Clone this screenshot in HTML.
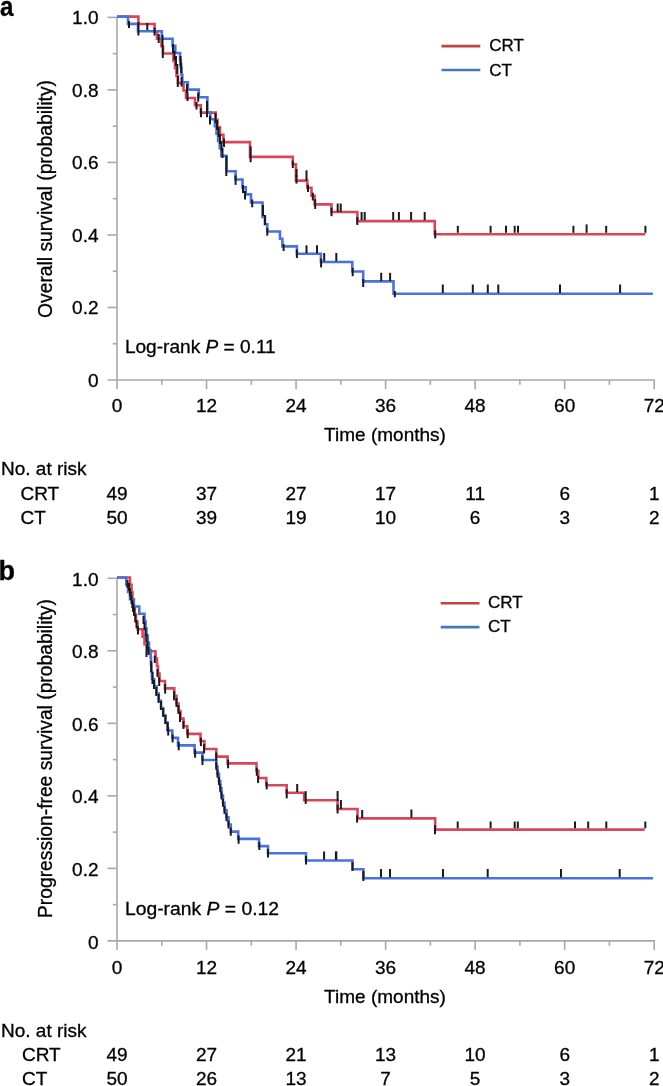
<!DOCTYPE html>
<html><head><meta charset="utf-8"><style>
html,body{margin:0;padding:0;background:#fff;}
svg{display:block;font-family:'Liberation Sans',sans-serif;filter:blur(0.4px);}
</style></head><body>
<svg width="663" height="1086" viewBox="0 0 663 1086">
<rect width="663" height="1086" fill="#fff"/>
<g stroke="#a8a8a8" stroke-width="1.6" fill="none"><line x1="117.0" y1="17.4" x2="117.0" y2="389.0"/><line x1="107.5" y1="380.0" x2="654.9000000000001" y2="380.0"/><line x1="112.8" y1="343.74" x2="117.0" y2="343.74"/><line x1="107.5" y1="307.48" x2="117.0" y2="307.48"/><line x1="112.8" y1="271.22" x2="117.0" y2="271.22"/><line x1="107.5" y1="234.96" x2="117.0" y2="234.96"/><line x1="112.8" y1="198.70" x2="117.0" y2="198.70"/><line x1="107.5" y1="162.44" x2="117.0" y2="162.44"/><line x1="112.8" y1="126.18" x2="117.0" y2="126.18"/><line x1="107.5" y1="89.92" x2="117.0" y2="89.92"/><line x1="112.8" y1="53.66" x2="117.0" y2="53.66"/><line x1="107.5" y1="17.40" x2="117.0" y2="17.40"/><line x1="161.77" y1="380.0" x2="161.77" y2="384.8"/><line x1="206.53" y1="380.0" x2="206.53" y2="389.2"/><line x1="251.30" y1="380.0" x2="251.30" y2="384.8"/><line x1="296.07" y1="380.0" x2="296.07" y2="389.2"/><line x1="340.83" y1="380.0" x2="340.83" y2="384.8"/><line x1="385.60" y1="380.0" x2="385.60" y2="389.2"/><line x1="430.37" y1="380.0" x2="430.37" y2="384.8"/><line x1="475.13" y1="380.0" x2="475.13" y2="389.2"/><line x1="519.90" y1="380.0" x2="519.90" y2="384.8"/><line x1="564.67" y1="380.0" x2="564.67" y2="389.2"/><line x1="609.43" y1="380.0" x2="609.43" y2="384.8"/><line x1="654.20" y1="380.0" x2="654.20" y2="389.2"/><line x1="117.0" y1="578.3" x2="117.0" y2="949.9"/><line x1="107.5" y1="940.9" x2="654.9000000000001" y2="940.9"/><line x1="112.8" y1="904.64" x2="117.0" y2="904.64"/><line x1="107.5" y1="868.38" x2="117.0" y2="868.38"/><line x1="112.8" y1="832.12" x2="117.0" y2="832.12"/><line x1="107.5" y1="795.86" x2="117.0" y2="795.86"/><line x1="112.8" y1="759.60" x2="117.0" y2="759.60"/><line x1="107.5" y1="723.34" x2="117.0" y2="723.34"/><line x1="112.8" y1="687.08" x2="117.0" y2="687.08"/><line x1="107.5" y1="650.82" x2="117.0" y2="650.82"/><line x1="112.8" y1="614.56" x2="117.0" y2="614.56"/><line x1="107.5" y1="578.30" x2="117.0" y2="578.30"/><line x1="161.77" y1="940.9" x2="161.77" y2="945.6999999999999"/><line x1="206.53" y1="940.9" x2="206.53" y2="950.1"/><line x1="251.30" y1="940.9" x2="251.30" y2="945.6999999999999"/><line x1="296.07" y1="940.9" x2="296.07" y2="950.1"/><line x1="340.83" y1="940.9" x2="340.83" y2="945.6999999999999"/><line x1="385.60" y1="940.9" x2="385.60" y2="950.1"/><line x1="430.37" y1="940.9" x2="430.37" y2="945.6999999999999"/><line x1="475.13" y1="940.9" x2="475.13" y2="950.1"/><line x1="519.90" y1="940.9" x2="519.90" y2="945.6999999999999"/><line x1="564.67" y1="940.9" x2="564.67" y2="950.1"/><line x1="609.43" y1="940.9" x2="609.43" y2="945.6999999999999"/><line x1="654.20" y1="940.9" x2="654.20" y2="950.1"/></g><g fill="none" stroke-width="2.6" stroke-linejoin="miter" stroke-linecap="butt"><path d="M117.00,16.60H138.40V24.00H154.60V31.40H157.00V38.80H161.50V46.20H163.00V53.50H173.40V60.90H175.00V68.30H176.50V75.70H178.00V83.10H183.50V90.50H186.00V98.00H195.00V105.20H200.80V112.60H215.80V119.90H217.50V127.30H220.00V134.70H223.40V142.10H250.00V149.50H250.00V156.90H292.80V164.30H295.90V172.40H295.90V180.60H307.30V187.80H311.50V195.70H314.60V204.40H331.50V212.00H357.40V221.10H434.80V234.30H645.40" stroke="#d6475a"/><path d="M117.00,16.60H128.00V23.90H138.00V31.30H161.80V38.70H172.60V45.90H175.30V53.00H180.10V60.30H180.80V67.50H181.50V74.80H182.30V82.20H187.90V89.60H198.80V97.20H207.40V104.70H207.40V112.30H210.30V119.20H214.90V126.30H216.50V133.60H218.10V140.90H219.70V148.20H221.30V155.90H226.60V163.50H226.60V171.20H235.60V179.50H242.50V187.40H245.80V194.40H251.00V202.50H262.50V209.70H262.50V216.90H264.90V224.20H267.30V231.50H280.00V238.80H282.40V246.40H296.90V253.80H320.90V262.00H352.30V271.50H363.20V281.40H393.50V293.80H652.90" stroke="#4a72dc"/><g stroke="#1a1a1a" stroke-width="2.0"><line x1="129" y1="21" x2="129" y2="28"/><line x1="138.4" y1="22" x2="138.4" y2="35.5"/><line x1="147.3" y1="23" x2="147.3" y2="30"/><line x1="154.6" y1="27.7" x2="154.6" y2="35.6"/><line x1="158.7" y1="34" x2="158.7" y2="43"/><line x1="162.5" y1="35" x2="162.5" y2="47"/><line x1="162.8" y1="47" x2="162.8" y2="58"/><line x1="173" y1="44" x2="173" y2="53"/><line x1="174.5" y1="51" x2="174.5" y2="60"/><line x1="176" y1="56" x2="176" y2="66"/><line x1="177.3" y1="64" x2="177.3" y2="74"/><line x1="177.8" y1="76" x2="177.8" y2="87"/><line x1="180.5" y1="56" x2="180.5" y2="66"/><line x1="181.2" y1="63" x2="181.2" y2="73"/><line x1="181.6" y1="77" x2="181.6" y2="86.5"/><line x1="187" y1="84" x2="187" y2="93"/><line x1="187.5" y1="92" x2="187.5" y2="101"/><line x1="198.2" y1="92.7" x2="198.2" y2="101.7"/><line x1="196.5" y1="102" x2="196.5" y2="109.5"/><line x1="201" y1="108.3" x2="201" y2="117.3"/><line x1="207" y1="101" x2="207" y2="117.3"/><line x1="210" y1="116" x2="210" y2="124.6"/><line x1="215.5" y1="113" x2="215.5" y2="123"/><line x1="217" y1="120" x2="217" y2="130"/><line x1="218.5" y1="127" x2="218.5" y2="137"/><line x1="220" y1="134" x2="220" y2="144"/><line x1="221.5" y1="141" x2="221.5" y2="151"/><line x1="222.5" y1="148" x2="222.5" y2="158"/><line x1="224" y1="138.4" x2="224" y2="146.9"/><line x1="250.6" y1="146.3" x2="250.6" y2="162.2"/><line x1="226.3" y1="156" x2="226.3" y2="166"/><line x1="226.3" y1="166" x2="226.3" y2="176"/><line x1="235.6" y1="175.4" x2="235.6" y2="184.9"/><line x1="243" y1="184.9" x2="243" y2="193"/><line x1="245" y1="191" x2="245" y2="199.5"/><line x1="252.2" y1="199.5" x2="252.2" y2="207.3"/><line x1="263" y1="205" x2="263" y2="216"/><line x1="265" y1="215" x2="265" y2="225"/><line x1="267.3" y1="228" x2="267.3" y2="235.7"/><line x1="283.6" y1="244" x2="283.6" y2="251"/><line x1="296.9" y1="249.5" x2="296.9" y2="258"/><line x1="306.5" y1="245.3" x2="306.5" y2="253.2"/><line x1="317" y1="245.3" x2="317" y2="253.2"/><line x1="321.1" y1="258.6" x2="321.1" y2="267.4"/><line x1="324.2" y1="253" x2="324.2" y2="261.3"/><line x1="336.3" y1="253" x2="336.3" y2="261.3"/><line x1="352.7" y1="268" x2="352.7" y2="276.2"/><line x1="363.2" y1="279" x2="363.2" y2="287"/><line x1="381.2" y1="272.8" x2="381.2" y2="281"/><line x1="390.1" y1="272.8" x2="390.1" y2="281"/><line x1="394.8" y1="291" x2="394.8" y2="297.3"/><line x1="442.8" y1="284.5" x2="442.8" y2="293"/><line x1="472.8" y1="284.5" x2="472.8" y2="293"/><line x1="487.8" y1="284.5" x2="487.8" y2="293"/><line x1="498.3" y1="284.5" x2="498.3" y2="293"/><line x1="560" y1="284.5" x2="560" y2="293"/><line x1="620.1" y1="284.5" x2="620.1" y2="293"/><line x1="292.8" y1="160.7" x2="292.8" y2="168"/><line x1="296.5" y1="169" x2="296.5" y2="177"/><line x1="296.5" y1="175" x2="296.5" y2="183.6"/><line x1="306.5" y1="170.3" x2="306.5" y2="180.6"/><line x1="308" y1="184.8" x2="308" y2="192"/><line x1="312.8" y1="192.7" x2="312.8" y2="200.5"/><line x1="315.2" y1="199.3" x2="315.2" y2="209"/><line x1="331.5" y1="207.7" x2="331.5" y2="216.2"/><line x1="337.7" y1="203.5" x2="337.7" y2="212"/><line x1="340.7" y1="203.5" x2="340.7" y2="212"/><line x1="357.3" y1="217" x2="357.3" y2="225"/><line x1="361.6" y1="212" x2="361.6" y2="220.1"/><line x1="364.7" y1="212" x2="364.7" y2="220.1"/><line x1="393.2" y1="212" x2="393.2" y2="220.1"/><line x1="398.9" y1="212" x2="398.9" y2="220.1"/><line x1="411.1" y1="212" x2="411.1" y2="220.1"/><line x1="424.7" y1="212" x2="424.7" y2="220.1"/><line x1="435.2" y1="230.3" x2="435.2" y2="238.4"/><line x1="457.8" y1="225.8" x2="457.8" y2="232.8"/><line x1="490.6" y1="225.8" x2="490.6" y2="232.8"/><line x1="506" y1="225.8" x2="506" y2="232.8"/><line x1="514.7" y1="225.8" x2="514.7" y2="232.8"/><line x1="518" y1="225.8" x2="518" y2="232.8"/><line x1="573.4" y1="225.8" x2="573.4" y2="232.8"/><line x1="586.6" y1="224.4" x2="586.6" y2="232.8"/><line x1="606.2" y1="225.8" x2="606.2" y2="232.8"/><line x1="645.4" y1="225.8" x2="645.4" y2="232.8"/></g><path d="M117.00,577.50H130.00V584.90H131.50V592.30H132.50V599.70H133.50V607.10H134.80V614.50H136.00V621.90H137.50V629.30H142.60V636.70H144.50V644.10H147.40V651.30H155.50V658.60H157.00V666.00H158.00V673.50H159.50V681.00H165.00V688.40H174.30V695.90H176.50V703.50H178.50V711.00H180.50V718.60H183.50V726.30H187.30V733.90H200.50V741.00H204.40V749.00H216.30V756.60H227.60V763.40H256.50V770.70H258.30V778.00H266.30V785.30H286.70V792.70H304.20V800.30H337.60V809.00H357.50V818.40H435.20V829.60H644.70" stroke="#d6475a"/><path d="M117.00,577.50H126.30V584.75H128.00V592.00H130.00V599.25H133.90V606.50H139.30V613.75H144.50V621.00H145.50V628.25H146.50V635.50H147.80V642.75H149.00V650.00H150.60V657.25H151.00V664.50H151.40V671.75H152.00V679.00H154.20V686.25H156.50V693.50H158.80V700.75H161.00V708.00H163.20V715.25H165.40V722.50H167.60V730.50H172.30V737.90H178.00V745.40H194.60V752.60H202.40V760.00H216.30V766.50H217.50V773.70H219.00V781.00H220.30V788.20H221.50V795.50H223.00V802.70H224.50V810.00H226.50V817.20H228.50V824.50H230.80V831.60H238.20V838.90H259.00V846.10H268.00V853.30H306.00V860.50H352.50V869.20H363.40V878.20H653.10" stroke="#4a72dc"/><g stroke="#1a1a1a" stroke-width="2.0"><line x1="127.5" y1="580" x2="127.5" y2="588"/><line x1="129" y1="583" x2="129" y2="591"/><line x1="130" y1="588" x2="130" y2="596"/><line x1="130.8" y1="592" x2="130.8" y2="600"/><line x1="131.5" y1="596" x2="131.5" y2="604"/><line x1="132.3" y1="600" x2="132.3" y2="608"/><line x1="133.2" y1="604" x2="133.2" y2="612"/><line x1="134" y1="607" x2="134" y2="615"/><line x1="133" y1="603" x2="133" y2="611"/><line x1="134.2" y1="608" x2="134.2" y2="616"/><line x1="135.3" y1="614" x2="135.3" y2="622"/><line x1="136.5" y1="620" x2="136.5" y2="628"/><line x1="138" y1="626" x2="138" y2="634.5"/><line x1="143.5" y1="616" x2="143.5" y2="624"/><line x1="144.5" y1="622" x2="144.5" y2="630"/><line x1="145.5" y1="628" x2="145.5" y2="636"/><line x1="146.5" y1="634" x2="146.5" y2="642"/><line x1="147.5" y1="641" x2="147.5" y2="649"/><line x1="148.5" y1="647" x2="148.5" y2="655"/><line x1="146.5" y1="645" x2="146.5" y2="657"/><line x1="151.2" y1="661" x2="151.2" y2="672"/><line x1="152.5" y1="672" x2="152.5" y2="684"/><line x1="154.8" y1="655.6" x2="154.8" y2="663"/><line x1="157.5" y1="669" x2="157.5" y2="677"/><line x1="159.2" y1="677" x2="159.2" y2="686"/><line x1="165.1" y1="684" x2="165.1" y2="693.6"/><line x1="154" y1="680" x2="154" y2="689"/><line x1="156.3" y1="687" x2="156.3" y2="696"/><line x1="158.6" y1="694" x2="158.6" y2="703"/><line x1="161" y1="701" x2="161" y2="710"/><line x1="163.2" y1="708" x2="163.2" y2="717"/><line x1="165.4" y1="715" x2="165.4" y2="724"/><line x1="167.6" y1="722" x2="167.6" y2="731"/><line x1="168.2" y1="727" x2="168.2" y2="735.6"/><line x1="172.6" y1="734.5" x2="172.6" y2="742.4"/><line x1="178.7" y1="741.9" x2="178.7" y2="750.3"/><line x1="195.1" y1="749.3" x2="195.1" y2="757.7"/><line x1="202.5" y1="755.6" x2="202.5" y2="765.1"/><line x1="174.1" y1="691.3" x2="174.1" y2="700.4"/><line x1="176.5" y1="698" x2="176.5" y2="707"/><line x1="178.5" y1="705" x2="178.5" y2="714"/><line x1="180" y1="712" x2="180" y2="722"/><line x1="183.5" y1="721" x2="183.5" y2="729"/><line x1="187.7" y1="729.2" x2="187.7" y2="738.2"/><line x1="200.9" y1="737.7" x2="200.9" y2="746.1"/><line x1="204.1" y1="744" x2="204.1" y2="753.5"/><line x1="216.2" y1="752.5" x2="216.2" y2="760.9"/><line x1="228.1" y1="759.8" x2="228.1" y2="768.3"/><line x1="216.3" y1="762" x2="216.3" y2="770"/><line x1="217.5" y1="769.7" x2="217.5" y2="777.7"/><line x1="219" y1="777" x2="219" y2="785"/><line x1="220.3" y1="784.2" x2="220.3" y2="792.2"/><line x1="221.5" y1="791.5" x2="221.5" y2="799.5"/><line x1="223" y1="798.7" x2="223" y2="806.7"/><line x1="224.5" y1="806" x2="224.5" y2="814"/><line x1="226.5" y1="813.2" x2="226.5" y2="821.2"/><line x1="228.5" y1="820.5" x2="228.5" y2="828.5"/><line x1="230.8" y1="827.7" x2="230.8" y2="835.7"/><line x1="238.6" y1="835.6" x2="238.6" y2="843.8"/><line x1="259.3" y1="842" x2="259.3" y2="850"/><line x1="268" y1="849" x2="268" y2="857.5"/><line x1="306" y1="856" x2="306" y2="864.5"/><line x1="256.8" y1="767.7" x2="256.8" y2="775.8"/><line x1="258.1" y1="775.8" x2="258.1" y2="783"/><line x1="266.7" y1="782.1" x2="266.7" y2="789.4"/><line x1="286.7" y1="789.4" x2="286.7" y2="798.4"/><line x1="297.2" y1="784" x2="297.2" y2="792.1"/><line x1="305.7" y1="791.2" x2="305.7" y2="803.9"/><line x1="324.1" y1="851.5" x2="324.1" y2="859.7"/><line x1="335.9" y1="851.5" x2="335.9" y2="859.7"/><line x1="336.3" y1="851.5" x2="336.3" y2="859.7"/><line x1="337.6" y1="791" x2="337.6" y2="801"/><line x1="337.6" y1="804.5" x2="337.6" y2="813.5"/><line x1="340.9" y1="800" x2="340.9" y2="809"/><line x1="357.1" y1="815.3" x2="357.1" y2="822.6"/><line x1="362.2" y1="810" x2="362.2" y2="818"/><line x1="411.4" y1="809.5" x2="411.4" y2="817.6"/><line x1="435" y1="825.3" x2="435" y2="834.3"/><line x1="352.5" y1="862" x2="352.5" y2="871"/><line x1="363.4" y1="871" x2="363.4" y2="881"/><line x1="381" y1="869" x2="381" y2="877.2"/><line x1="390" y1="869" x2="390" y2="877.2"/><line x1="443" y1="869" x2="443" y2="877.2"/><line x1="487.7" y1="869" x2="487.7" y2="877.2"/><line x1="561" y1="869" x2="561" y2="877.2"/><line x1="619.7" y1="869" x2="619.7" y2="877.2"/><line x1="457.7" y1="821.5" x2="457.7" y2="828.3"/><line x1="490.6" y1="821.5" x2="490.6" y2="828.3"/><line x1="514.7" y1="821.5" x2="514.7" y2="828.3"/><line x1="517.8" y1="821.5" x2="517.8" y2="828.3"/><line x1="575" y1="821.5" x2="575" y2="828.3"/><line x1="588.2" y1="821.5" x2="588.2" y2="828.3"/><line x1="606.3" y1="821.5" x2="606.3" y2="828.3"/><line x1="645.3" y1="821.5" x2="645.3" y2="828.3"/></g></g><line x1="441.5" y1="46.10" x2="480.3" y2="46.10" stroke="#c2433f" stroke-width="2.6"/><line x1="441.5" y1="70.00" x2="480.3" y2="70.00" stroke="#4577bd" stroke-width="2.6"/><line x1="440.7" y1="603.20" x2="479.5" y2="603.20" stroke="#c2433f" stroke-width="2.6"/><line x1="440.7" y1="627.10" x2="479.5" y2="627.10" stroke="#4577bd" stroke-width="2.6"/><g fill="#000" font-size="19" stroke="#000" stroke-width="0.3"><text x="98.5" y="386.80" text-anchor="end">0</text><text x="98.5" y="314.28" text-anchor="end">0.2</text><text x="98.5" y="241.76" text-anchor="end">0.4</text><text x="98.5" y="169.24" text-anchor="end">0.6</text><text x="98.5" y="96.72" text-anchor="end">0.8</text><text x="98.5" y="24.20" text-anchor="end">1.0</text><text x="117.00" y="412.20" text-anchor="middle">0</text><text x="206.53" y="412.20" text-anchor="middle">12</text><text x="296.07" y="412.20" text-anchor="middle">24</text><text x="385.60" y="412.20" text-anchor="middle">36</text><text x="475.13" y="412.20" text-anchor="middle">48</text><text x="564.67" y="412.20" text-anchor="middle">60</text><text x="654.20" y="412.20" text-anchor="middle">72</text><text x="385" y="440.90" text-anchor="middle">Time (months)</text><text transform="translate(52.3,199.00) rotate(-90)" text-anchor="middle" font-size="19.3" textLength="238" lengthAdjust="spacingAndGlyphs">Overall survival (probability)</text><text x="124.9" y="353.00" textLength="150.8" lengthAdjust="spacingAndGlyphs">Log-rank <tspan font-style="italic">P</tspan> = 0.11</text><text x="1" y="475.30">No. at risk</text><text x="20.5" y="499.60">CRT</text><text x="20.5" y="523.50">CT</text><text x="117.00" y="499.60" text-anchor="middle">49</text><text x="117.00" y="523.50" text-anchor="middle">50</text><text x="206.53" y="499.60" text-anchor="middle">37</text><text x="206.53" y="523.50" text-anchor="middle">39</text><text x="296.07" y="499.60" text-anchor="middle">27</text><text x="296.07" y="523.50" text-anchor="middle">19</text><text x="385.60" y="499.60" text-anchor="middle">17</text><text x="385.60" y="523.50" text-anchor="middle">10</text><text x="475.13" y="499.60" text-anchor="middle">11</text><text x="475.13" y="523.50" text-anchor="middle">6</text><text x="564.67" y="499.60" text-anchor="middle">6</text><text x="564.67" y="523.50" text-anchor="middle">3</text><text x="654.20" y="499.60" text-anchor="middle">1</text><text x="654.20" y="523.50" text-anchor="middle">2</text><text x="489.2" y="51.00" font-size="17">CRT</text><text x="489.2" y="75.50" font-size="17">CT</text><text x="0.09999999999999998" y="15.60" font-weight="bold" font-size="27" textLength="13.4" lengthAdjust="spacingAndGlyphs">a</text><text x="98.5" y="948.50" text-anchor="end">0</text><text x="98.5" y="875.98" text-anchor="end">0.2</text><text x="98.5" y="803.46" text-anchor="end">0.4</text><text x="98.5" y="730.94" text-anchor="end">0.6</text><text x="98.5" y="658.42" text-anchor="end">0.8</text><text x="98.5" y="585.90" text-anchor="end">1.0</text><text x="117.00" y="974.00" text-anchor="middle">0</text><text x="206.53" y="974.00" text-anchor="middle">12</text><text x="296.07" y="974.00" text-anchor="middle">24</text><text x="385.60" y="974.00" text-anchor="middle">36</text><text x="475.13" y="974.00" text-anchor="middle">48</text><text x="564.67" y="974.00" text-anchor="middle">60</text><text x="654.20" y="974.00" text-anchor="middle">72</text><text x="385" y="1002.70" text-anchor="middle">Time (months)</text><text transform="translate(52.3,758.60) rotate(-90)" text-anchor="middle" font-size="19.3" textLength="318.8" lengthAdjust="spacingAndGlyphs">Progression-free survival (probability)</text><text x="124.9" y="914.70" textLength="154.2" lengthAdjust="spacingAndGlyphs">Log-rank <tspan font-style="italic">P</tspan> = 0.12</text><text x="1" y="1037.00">No. at risk</text><text x="22.0" y="1061.30">CRT</text><text x="22.0" y="1085.20">CT</text><text x="117.00" y="1061.30" text-anchor="middle">49</text><text x="117.00" y="1085.20" text-anchor="middle">50</text><text x="206.53" y="1061.30" text-anchor="middle">27</text><text x="206.53" y="1085.20" text-anchor="middle">26</text><text x="296.07" y="1061.30" text-anchor="middle">21</text><text x="296.07" y="1085.20" text-anchor="middle">13</text><text x="385.60" y="1061.30" text-anchor="middle">13</text><text x="385.60" y="1085.20" text-anchor="middle">7</text><text x="475.13" y="1061.30" text-anchor="middle">10</text><text x="475.13" y="1085.20" text-anchor="middle">5</text><text x="564.67" y="1061.30" text-anchor="middle">6</text><text x="564.67" y="1085.20" text-anchor="middle">3</text><text x="654.20" y="1061.30" text-anchor="middle">1</text><text x="654.20" y="1085.20" text-anchor="middle">2</text><text x="488.0" y="607.90" font-size="17">CRT</text><text x="488.0" y="632.40" font-size="17">CT</text><text x="-1.5" y="579.60" font-weight="bold" font-size="27">b</text></g>
</svg>
</body></html>
